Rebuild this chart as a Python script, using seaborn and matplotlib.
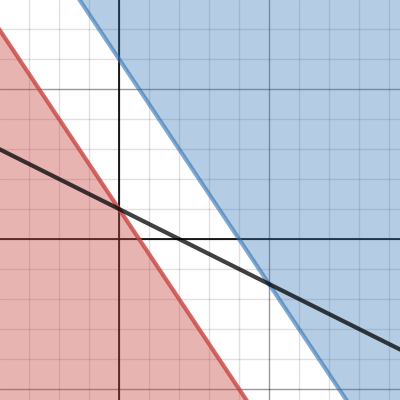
import matplotlib
matplotlib.use("Agg")
import matplotlib.pyplot as plt
import seaborn as sns
import numpy as np
import pandas as pd

# view window (graph units)
x_min, x_max = -3.97, 9.37
y_min, y_max = -5.37, 7.97

# lines y = m*x + b
red_m, red_b = -1.5, 1.0      # shaded below
blue_m, blue_b = -1.5, 6.0    # shaded above
black_m, black_b = -0.5, 1.0

red = "#c74440"
blue = "#2d70b3"

sns.set_style("white")
fig = plt.figure(figsize=(4, 4), dpi=100)
ax = fig.add_axes([0, 0, 1, 1])

# grid
for v in np.arange(-3, 10):
    ax.axvline(v, color="#000000", alpha=0.12 if v % 5 else 0.4, lw=1, zorder=0)
for v in np.arange(-5, 8):
    ax.axhline(v, color="#000000", alpha=0.12 if v % 5 else 0.4, lw=1, zorder=0)
ax.axvline(0, color="black", lw=1.2, zorder=1)
ax.axhline(0, color="black", lw=1.2, zorder=1)

xs = np.array([x_min - 1, x_max + 1])
df = pd.DataFrame({"x": xs,
                   "red": red_m * xs + red_b,
                   "blue": blue_m * xs + blue_b,
                   "black": black_m * xs + black_b})

ax.fill_between(df["x"], y_min - 1, df["red"], color=red, alpha=0.4, lw=0, zorder=2)
ax.fill_between(df["x"], df["blue"], y_max + 1, color=blue, alpha=0.35, lw=0, zorder=2)

sns.lineplot(data=df, x="x", y="red", color=red, lw=3, alpha=0.8, ax=ax, zorder=3)
sns.lineplot(data=df, x="x", y="blue", color=blue, lw=3, alpha=0.6, ax=ax, zorder=3)
sns.lineplot(data=df, x="x", y="black", color="#000000", lw=3, alpha=0.75, ax=ax, zorder=4)

ax.set_xlim(x_min, x_max)
ax.set_ylim(y_min, y_max)
ax.set_xticks([])
ax.set_yticks([])
ax.set_xlabel("")
ax.set_ylabel("")
for s in ax.spines.values():
    s.set_visible(False)

fig.savefig("out.png", dpi=100)
